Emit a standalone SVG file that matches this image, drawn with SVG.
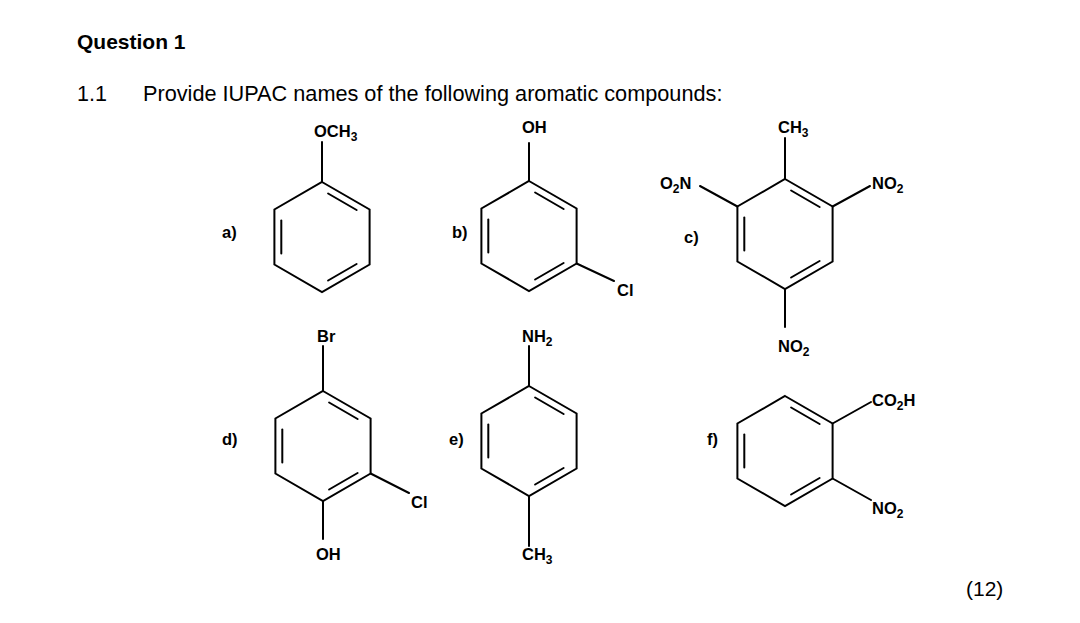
<svg xmlns="http://www.w3.org/2000/svg" xmlns:xlink="http://www.w3.org/1999/xlink" width="1080" height="623" viewBox="0 0 1080 623">
<style>
.b{stroke:#000;stroke-width:2;fill:none;stroke-linecap:round}
.t{font-family:"Liberation Sans",Arial,sans-serif;fill:#000}
.g{font-family:"Liberation Sans",Arial,sans-serif;font-weight:bold;font-size:16.5px;fill:#000}
.s{font-size:12px}
</style>
<defs>
<g id="ring" class="b">
<polygon points="0,-55 47.6,-27.5 47.6,27.5 0,55 -47.6,27.5 -47.6,-27.5"/>
<line x1="6.1" y1="-43.5" x2="34.6" y2="-27"/>
<line x1="-40.7" y1="-16.5" x2="-40.7" y2="16.5"/>
<line x1="34.6" y1="27" x2="6.1" y2="43.5"/>
</g>
</defs>
<rect width="1080" height="623" fill="#fff"/>
<text class="t" x="77" y="49" font-size="21" font-weight="bold">Question 1</text>
<text class="t" x="77" y="101" font-size="21.5">1.1</text>
<text class="t" x="143" y="101" font-size="21.7">Provide IUPAC names of the following aromatic compounds:</text>
<text class="t" x="966" y="596" font-size="21">(12)</text>

<g id="mol-a">
<use xlink:href="#ring" href="#ring" transform="translate(322,237)"/>
<line class="b" x1="322" y1="182" x2="322" y2="142"/>
<text class="g" x="314" y="137">OCH<tspan class="s" dy="4">3</tspan></text>
<text class="g" x="222" y="238">a)</text>
</g>
<g id="mol-b">
<use xlink:href="#ring" href="#ring" transform="translate(529,236)"/>
<line class="b" x1="529" y1="181" x2="529" y2="143"/>
<line class="b" x1="576.6" y1="263.5" x2="614" y2="281"/>
<text class="g" x="522" y="133">OH</text>
<text class="g" x="617" y="296">Cl</text>
<text class="g" x="452" y="238">b)</text>
</g>
<g id="mol-c">
<use xlink:href="#ring" href="#ring" transform="translate(785,234)"/>
<line class="b" x1="785" y1="179" x2="785" y2="138"/>
<line class="b" x1="737.4" y1="206.5" x2="700" y2="186"/>
<line class="b" x1="832.6" y1="206.5" x2="870" y2="186"/>
<line class="b" x1="785" y1="289" x2="785" y2="327"/>
<text class="g" x="778" y="133">CH<tspan class="s" dy="4">3</tspan></text>
<text class="g" x="660" y="189">O<tspan class="s" dy="4">2</tspan><tspan dy="-4">N</tspan></text>
<text class="g" x="872" y="189">NO<tspan class="s" dy="4">2</tspan></text>
<text class="g" x="778" y="352">NO<tspan class="s" dy="4">2</tspan></text>
<text class="g" x="684" y="243">c)</text>
</g>
<g id="mol-d">
<use xlink:href="#ring" href="#ring" transform="translate(323,446)"/>
<line class="b" x1="323" y1="391" x2="323" y2="346"/>
<line class="b" x1="370.6" y1="473.5" x2="409" y2="493"/>
<line class="b" x1="323" y1="501" x2="323" y2="539"/>
<text class="g" x="317" y="342">Br</text>
<text class="g" x="411" y="508">Cl</text>
<text class="g" x="316" y="560">OH</text>
<text class="g" x="222" y="445">d)</text>
</g>
<g id="mol-e">
<use xlink:href="#ring" href="#ring" transform="translate(529,441)"/>
<line class="b" x1="529" y1="386" x2="529" y2="346"/>
<line class="b" x1="529" y1="496" x2="529" y2="546"/>
<text class="g" x="522" y="342">NH<tspan class="s" dy="4">2</tspan></text>
<text class="g" x="522" y="560">CH<tspan class="s" dy="4">3</tspan></text>
<text class="g" x="449" y="445">e)</text>
</g>
<g id="mol-f">
<use xlink:href="#ring" href="#ring" transform="translate(785,451)"/>
<line class="b" x1="832.6" y1="423.5" x2="871" y2="402"/>
<line class="b" x1="832.6" y1="478.5" x2="871" y2="500"/>
<text class="g" x="872" y="406">CO<tspan class="s" dy="4">2</tspan><tspan dy="-4">H</tspan></text>
<text class="g" x="872" y="514">NO<tspan class="s" dy="4">2</tspan></text>
<text class="g" x="707" y="445">f)</text>
</g>
</svg>
